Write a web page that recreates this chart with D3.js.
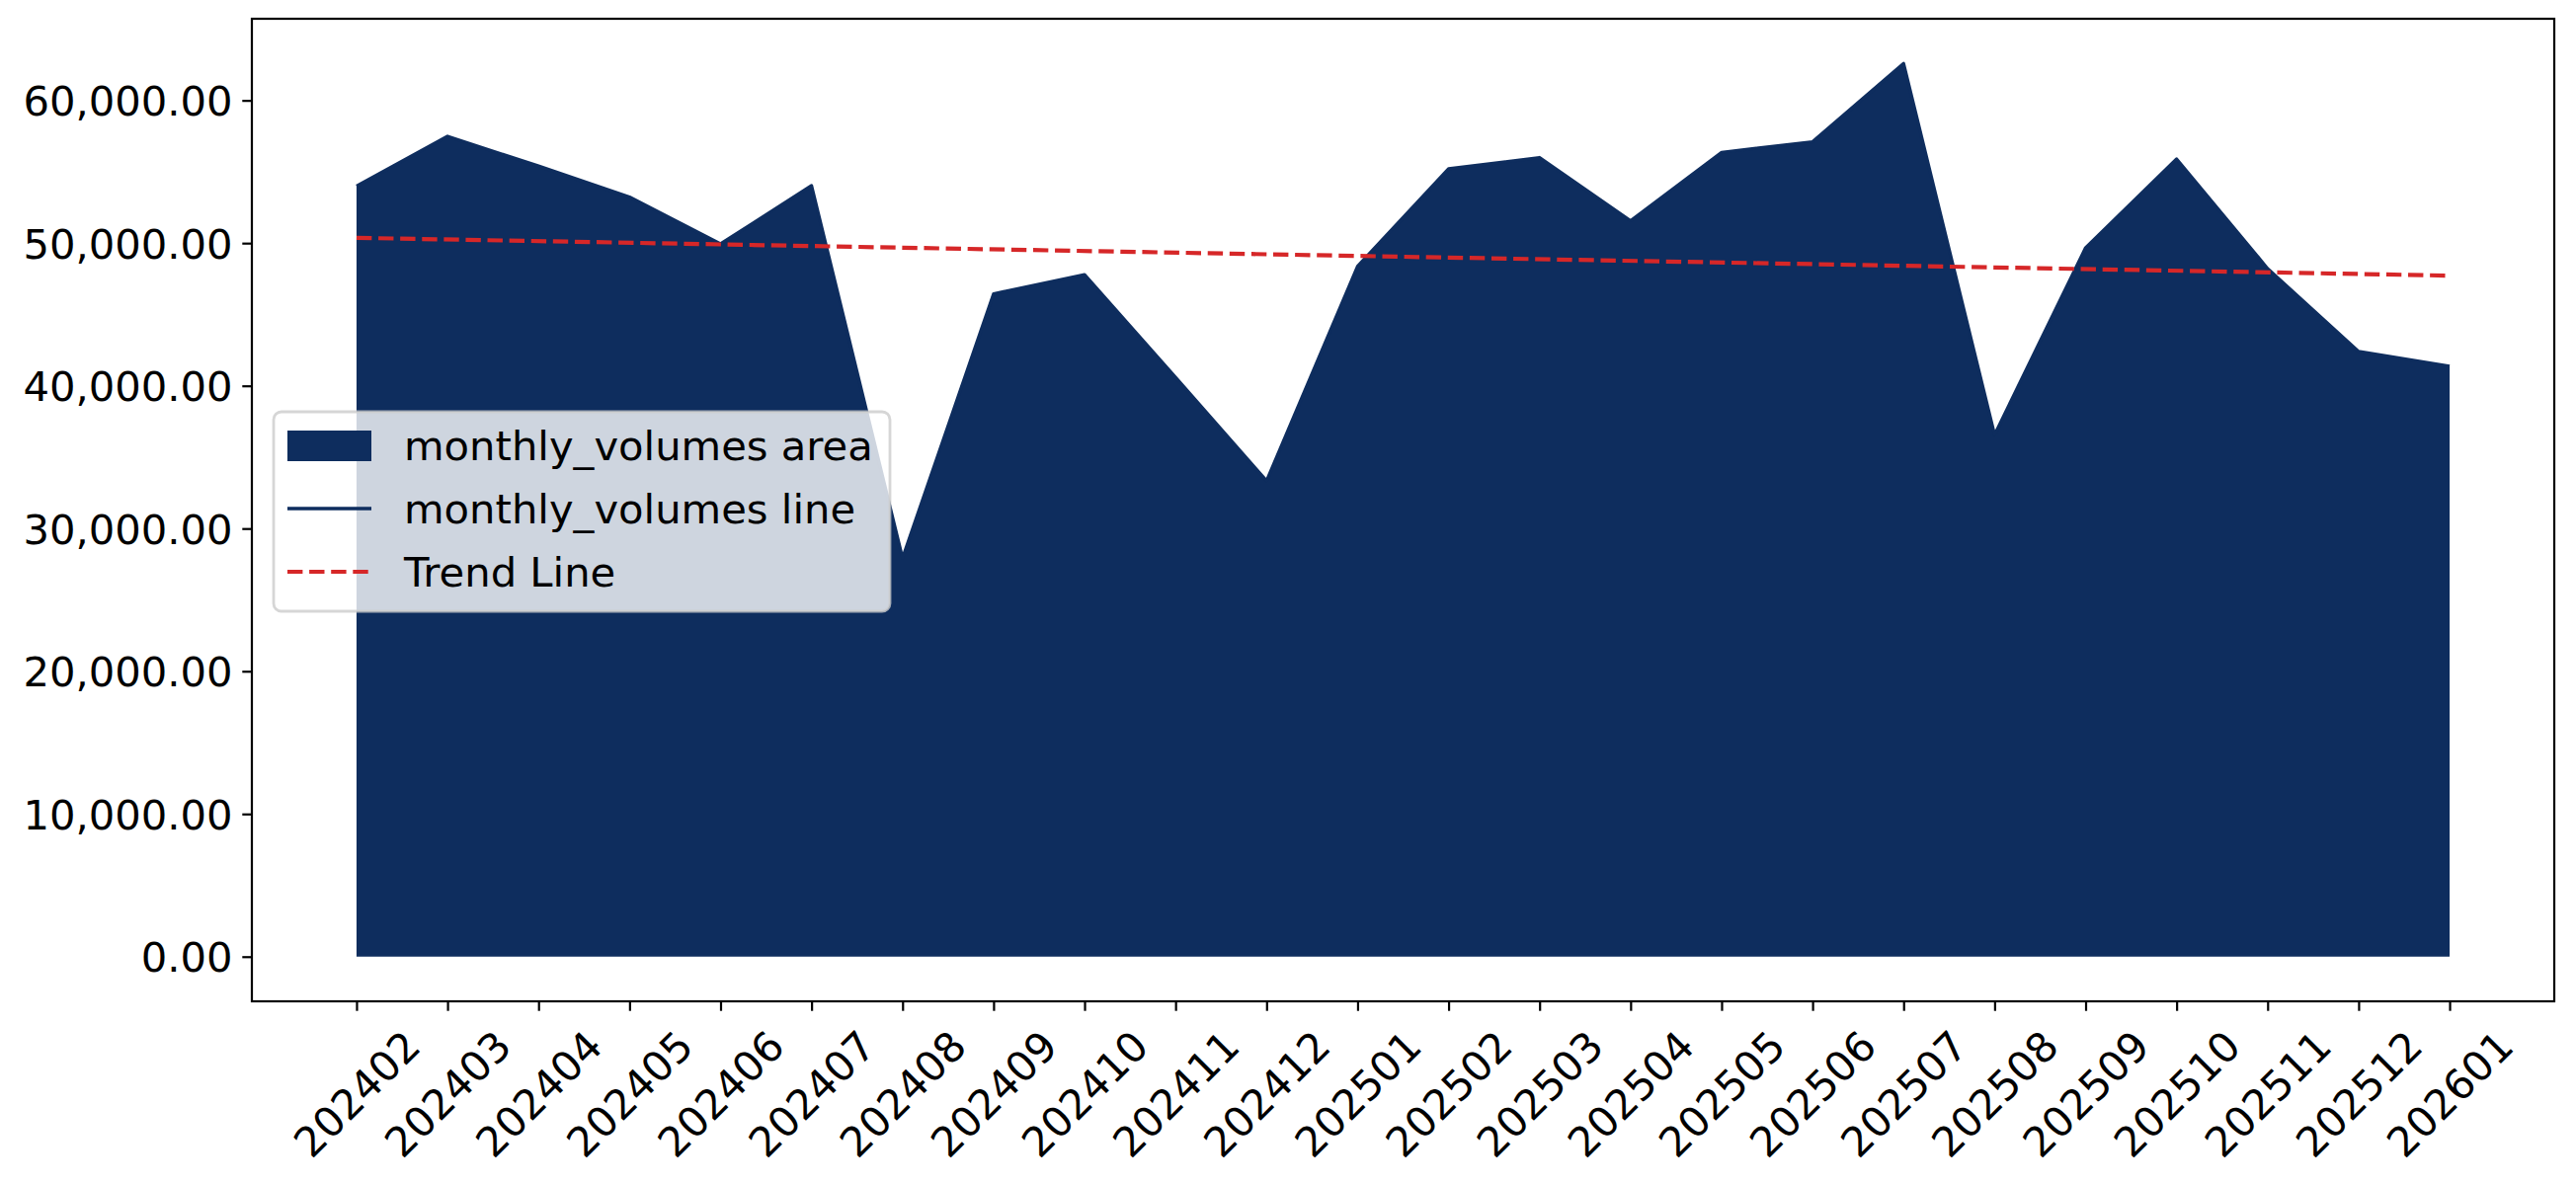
<!DOCTYPE html>
<html>
<head>
<meta charset="utf-8">
<script src="https://cdn.jsdelivr.net/npm/d3@7/dist/d3.min.js"></script>
<style>
  html, body { margin: 0; padding: 0; background: #ffffff; }
  svg { display: block; }
  text { font-family: "DejaVu Sans", sans-serif; }
</style>
</head>
<body>
<script>
// ---- data ----
const categories = ["202402","202403","202404","202405","202406","202407","202408","202409","202410","202411","202412","202501","202502","202503","202504","202505","202506","202507","202508","202509","202510","202511","202512","202601"];
const monthlyVolumes = [54000, 57490, 55400, 53230, 49950, 54030, 27940, 46450, 47790, 40600, 33350, 48380, 55210, 56000, 51570, 56360, 57100, 62590, 36580, 49680, 55900, 48220, 42410, 41380];
const trendValues = [50370, 47720]; // trend line at first and last category
const yTicks = [0, 10000, 20000, 30000, 40000, 50000, 60000];
const legendLabels = ["monthly_volumes area", "monthly_volumes line", "Trend Line"];

// ---- layout ----
const W = 2608, H = 1199;
const plot = { left: 255, right: 2586, top: 19, bottom: 1014 };
const navy = "#0e2d5e", red = "#d62728";
const fontSize = 41.7;

const svg = d3.select("body").append("svg").attr("width", W).attr("height", H);

const idx = d3.range(categories.length);
const n = categories.length - 1;
const x = d3.scaleLinear().domain([-0.05 * n, n * 1.05]).range([plot.left, plot.right]);
const ymax = d3.max(monthlyVolumes);
const y = d3.scaleLinear().domain([-0.05 * ymax, ymax * 1.05]).range([plot.bottom, plot.top]);

// area
const area = d3.area().x((d, i) => x(i)).y0(y(0)).y1(d => y(d));
svg.append("path").datum(monthlyVolumes).attr("d", area).attr("fill", navy);

// line on top
const line = d3.line().x((d, i) => x(i)).y(d => y(d));
svg.append("path").datum(monthlyVolumes).attr("d", line)
  .attr("fill", "none").attr("stroke", navy).attr("stroke-width", 3.2).attr("stroke-linejoin", "round");

// trend line
svg.append("line")
  .attr("x1", x(0)).attr("y1", y(trendValues[0]))
  .attr("x2", x(n)).attr("y2", y(trendValues[1]))
  .attr("stroke", red).attr("stroke-width", 4.2).attr("stroke-dasharray", "15.4,6.7");

// axes
const xAxis = d3.axisBottom(x).tickValues(idx).tickFormat(i => categories[i]).tickSize(9.7).tickPadding(8);
const gx = svg.append("g").attr("transform", `translate(0,${plot.bottom})`).call(xAxis);
gx.select(".domain").remove();
gx.selectAll(".tick line").attr("stroke", "#000").attr("stroke-width", 2.2);
gx.selectAll(".tick text").remove();
gx.selectAll(".tick").append("text")
  .attr("fill", "#000")
  .attr("font-size", fontSize)
  .attr("text-anchor", "middle")
  .attr("dominant-baseline", "central")
  .attr("transform", "translate(0,94) rotate(-45)")
  .text(i => categories[i]);

const yAxis = d3.axisLeft(y).tickValues(yTicks).tickFormat(d3.format(",.2f")).tickSize(9.7).tickPadding(9.7);
const gy = svg.append("g").attr("transform", `translate(${plot.left},0)`).call(yAxis);
gy.select(".domain").remove();
gy.selectAll(".tick line").attr("stroke", "#000").attr("stroke-width", 2.2);
gy.selectAll(".tick text").attr("fill", "#000").attr("font-size", fontSize)
  .attr("font-family", "DejaVu Sans").attr("dy", "0.36em");

// frame
svg.append("rect")
  .attr("x", plot.left).attr("y", plot.top)
  .attr("width", plot.right - plot.left).attr("height", plot.bottom - plot.top)
  .attr("fill", "none").attr("stroke", "#000").attr("stroke-width", 2.2);

// legend
const lg = svg.append("g");
lg.append("rect")
  .attr("x", 277).attr("y", 417).attr("width", 624).attr("height", 202)
  .attr("rx", 8).attr("ry", 8)
  .attr("fill", "#ffffff").attr("fill-opacity", 0.8)
  .attr("stroke", "#cccccc").attr("stroke-opacity", 0.8).attr("stroke-width", 2.8);
const hx0 = 291, hx1 = 376, tx = 409;
const baselines = [466, 530, 594];
lg.append("rect").attr("x", hx0).attr("y", 436).attr("width", hx1 - hx0).attr("height", 31).attr("fill", navy);
lg.append("line").attr("x1", hx0).attr("x2", hx1).attr("y1", 515).attr("y2", 515)
  .attr("stroke", navy).attr("stroke-width", 3.5);
lg.append("line").attr("x1", hx0).attr("x2", hx1).attr("y1", 579).attr("y2", 579)
  .attr("stroke", red).attr("stroke-width", 4.2).attr("stroke-dasharray", "15.4,6.7");
lg.selectAll("text.lbl").data(legendLabels).enter().append("text")
  .attr("class", "lbl")
  .attr("x", tx).attr("y", (d, i) => baselines[i])
  .attr("font-size", fontSize).attr("fill", "#000")
  .text(d => d);
</script>
</body>
</html>
